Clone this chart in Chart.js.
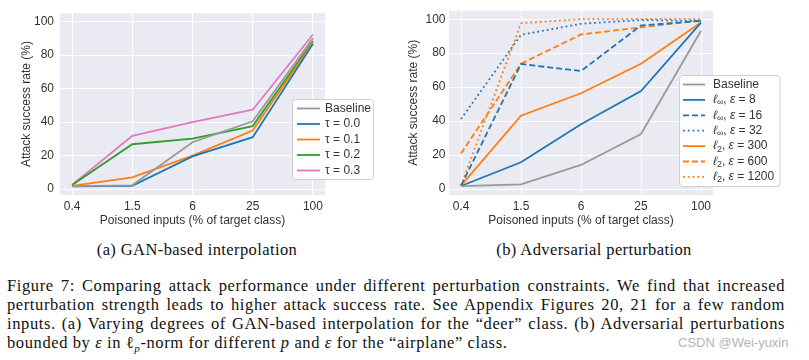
<!DOCTYPE html>
<html>
<head>
<meta charset="utf-8">
<script src="https://cdn.jsdelivr.net/npm/chart.js@4/dist/chart.umd.min.js"></script>
<style>
  html, body { margin: 0; padding: 0; background: #fff; }
  body { width: 809px; height: 360px; overflow: hidden; position: relative; }
  canvas { position: absolute; top: 0; }
  .cap { position: absolute; font-family: "Liberation Serif", "Times New Roman", serif; font-size: 16.5px; letter-spacing: 0.4px; color: #111; text-align: center; line-height: 20px; white-space: nowrap; }
  .fig { position: absolute; left: 7px; top: 276px; width: 778px; font-family: "Liberation Serif", "Times New Roman", serif; font-size: 16.5px; letter-spacing: 0.6px; color: #111; line-height: 19px; }
  .fig div { text-align: justify; text-align-last: justify; white-space: nowrap; }
  .fig div.last { text-align: left; text-align-last: left; }
  .wm { position: absolute; left: 678px; top: 335px; font-family: "Liberation Sans", Arial, sans-serif; font-size: 13px; color: #b4b4b4; line-height: 16px; white-space: nowrap; }
</style>
</head>
<body>
<canvas id="c1" width="400" height="230" style="left:0px;width:400px;height:230px"></canvas>
<canvas id="c2" width="409" height="230" style="left:400px;width:409px;height:230px"></canvas>

<div class="cap" style="left:47px;top:240px;width:300px">(a) GAN-based interpolation</div>
<div class="cap" style="left:444px;top:240px;width:300px">(b) Adversarial perturbation</div>

<div class="fig">
  <div>Figure 7: Comparing attack performance under different perturbation constraints. We find that increased</div>
  <div>perturbation strength leads to higher attack success rate. See Appendix Figures 20, 21 for a few random</div>
  <div>inputs. (a) Varying degrees of GAN-based interpolation for the “deer” class. (b) Adversarial perturbations</div>
  <div class="last">bounded by <i>ε</i> in ℓ<sub style="font-size:11px;font-style:italic;line-height:0">p</sub>-norm for different <i>p</i> and <i>ε</i> for the “airplane” class.</div>
</div>
<div class="wm">CSDN @Wei-yuxin</div>

<script>
// ---------- data ----------
const categories = ['0.4', '1.5', '6', '25', '100'];
const yTicks = [0, 20, 40, 60, 80, 100];

// (a) GAN-based interpolation
const ganBaseline = [1.8, 2.3, 28.0, 40.5, 90.0];
const ganTau00    = [1.7, 2.0, 19.5, 31.0, 86.7];
const ganTau01    = [2.0, 7.0, 20.0, 35.0, 87.5];
const ganTau02    = [2.5, 26.8, 30.2, 37.6, 88.4];
const ganTau03    = [2.5, 31.8, 40.0, 47.4, 92.3];

// (b) Adversarial perturbation
const advBaseline = [1.7, 2.7, 14.2, 32.4, 93.2];
const advLinf8    = [1.8, 15.8, 38.2, 57.7, 98.0];
const advLinf16   = [2.0, 73.6, 69.5, 96.3, 99.0];
const advLinf32   = [41.2, 90.8, 97.3, 99.5, 99.0];
const advL2_300   = [2.0, 43.2, 56.4, 73.8, 98.0];
const advL2_600   = [20.9, 73.8, 91.0, 95.2, 99.3];
const advL2_1200  = [2.0, 97.6, 100.0, 100.0, 100.0];

// ---------- styles ----------
const C = { blue: '#1f77b4', orange: '#ff7f0e', green: '#2ca02c', pink: '#e377c2', gray: '#999999' };
const DASHED = [6, 3];
const DOTTED = [1.8, 3];
const FONT = '"Liberation Sans", Arial, sans-serif';
const FS = 12;
const TXT = '#333333';

function toPts(arr) { return arr.map((v, i) => ({ x: i, y: v })); }
function ds(label, data, color, dash) {
  return { label: label, data: toPts(data), borderColor: color, backgroundColor: color,
           borderWidth: 1.8, borderDash: dash || [], pointRadius: 0, tension: 0, fill: false };
}

const bgPlugin = {
  id: 'bg',
  beforeDraw(chart) {
    const { ctx, chartArea: a } = chart;
    ctx.save();
    ctx.fillStyle = '#ffffff';
    ctx.fillRect(0, 0, chart.width, chart.height);
    ctx.fillStyle = '#eaeaf2';
    ctx.fillRect(a.left, a.top, a.right - a.left, a.bottom - a.top);
    ctx.restore();
  }
};

function drawPieces(ctx, pieces, x, y) {
  for (const p of pieces) {
    const size = p.sub ? 9 : FS;
    ctx.font = (p.it ? 'italic ' : '') + size + 'px ' + FONT;
    ctx.fillText(p.t, x, y + (p.sub ? 3 : 0));
    x += ctx.measureText(p.t).width;
  }
}

const boxLegend = {
  id: 'boxLegend',
  afterDraw(chart, args, o) {
    if (!o || !o.items) return;
    const ctx = chart.ctx;
    ctx.save();
    const r = 3;
    ctx.beginPath();
    ctx.moveTo(o.x + r, o.y);
    ctx.arcTo(o.x + o.w, o.y, o.x + o.w, o.y + o.h, r);
    ctx.arcTo(o.x + o.w, o.y + o.h, o.x, o.y + o.h, r);
    ctx.arcTo(o.x, o.y + o.h, o.x, o.y, r);
    ctx.arcTo(o.x, o.y, o.x + o.w, o.y, r);
    ctx.closePath();
    ctx.fillStyle = 'rgba(255,255,255,0.9)';
    ctx.fill();
    ctx.strokeStyle = '#d0d0d0';
    ctx.lineWidth = 1;
    ctx.stroke();
    o.items.forEach((it, i) => {
      const dset = chart.data.datasets[i];
      const yy = o.firstY + i * o.rowH;
      ctx.beginPath();
      ctx.setLineDash(dset.borderDash || []);
      ctx.strokeStyle = dset.borderColor;
      ctx.lineWidth = 1.8;
      ctx.moveTo(o.lx0, yy);
      ctx.lineTo(o.lx1, yy);
      ctx.stroke();
      ctx.setLineDash([]);
      ctx.fillStyle = TXT;
      ctx.textBaseline = 'middle';
      ctx.textAlign = 'left';
      drawPieces(ctx, it, o.tx, yy);
    });
    ctx.restore();
  }
};

function makeChart(id, datasets, yW, tickPad, titlePad, padRight, legend) {
  return new Chart(document.getElementById(id), {
    type: 'line',
    data: { datasets: datasets },
    plugins: [bgPlugin, boxLegend],
    options: {
      responsive: false,
      animation: false,
      devicePixelRatio: 1,
      layout: { padding: { top: 9, right: padRight, left: 0, bottom: 0 } },
      plugins: { legend: { display: false }, tooltip: { enabled: false }, boxLegend: legend },
      scales: {
        x: {
          type: 'linear', min: -0.2, max: 4.2,
          afterBuildTicks: s => { s.ticks = categories.map((_, i) => ({ value: i })); },
          afterFit: s => { s.height = 35; },
          ticks: { callback: v => categories[v], font: { family: FONT, size: FS }, color: TXT,
                   padding: 4, autoSkip: false, maxRotation: 0 },
          grid: { color: '#ffffff', lineWidth: 1, drawTicks: false },
          border: { display: false },
          title: { display: true, text: 'Poisoned inputs (% of target class)',
                   font: { family: FONT, size: FS }, color: TXT, padding: { top: 0, bottom: 2.5 } }
        },
        y: {
          type: 'linear', min: -3.5, max: 105,
          afterBuildTicks: s => { s.ticks = yTicks.map(v => ({ value: v })); },
          afterFit: s => { s.width = yW; },
          ticks: { font: { family: FONT, size: FS }, color: TXT, padding: tickPad },
          grid: { color: '#ffffff', lineWidth: 1, drawTicks: false },
          border: { display: false },
          title: { display: true, text: 'Attack success rate (%)',
                   font: { family: FONT, size: FS }, color: TXT, padding: { top: titlePad, bottom: 0 } }
        }
      }
    }
  });
}

// (a)
makeChart('c1', [
  ds('Baseline', ganBaseline, C.gray),
  ds('τ = 0.0', ganTau00, C.blue),
  ds('τ = 0.1', ganTau01, C.orange),
  ds('τ = 0.2', ganTau02, C.green),
  ds('τ = 0.3', ganTau03, C.pink)
], 60, 6, 19.5, 75, {
  x: 292.5, y: 99.5, w: 81, h: 80, firstY: 108.5, rowH: 15.5, lx0: 297, lx1: 320, tx: 325,
  items: [
    [{ t: 'Baseline' }],
    [{ t: 'τ = 0.0' }],
    [{ t: 'τ = 0.1' }],
    [{ t: 'τ = 0.2' }],
    [{ t: 'τ = 0.3' }]
  ]
});

// (b)
makeChart('c2', [
  ds('Baseline', advBaseline, C.gray),
  ds('linf8', advLinf8, C.blue),
  ds('linf16', advLinf16, C.blue, DASHED),
  ds('linf32', advLinf32, C.blue, DOTTED),
  ds('l2_300', advL2_300, C.orange),
  ds('l2_600', advL2_600, C.orange, DASHED),
  ds('l2_1200', advL2_1200, C.orange, DOTTED)
], 49, 3.5, 6, 96, {
  x: 279.5, y: 75.5, w: 100.5, h: 111, firstY: 84.5, rowH: 15.4, lx0: 283, lx1: 305, tx: 313,
  items: [
    [{ t: 'Baseline' }],
    [{ t: 'ℓ', it: true }, { t: '∞', sub: true }, { t: ', ' }, { t: 'ε', it: true }, { t: ' = 8' }],
    [{ t: 'ℓ', it: true }, { t: '∞', sub: true }, { t: ', ' }, { t: 'ε', it: true }, { t: ' = 16' }],
    [{ t: 'ℓ', it: true }, { t: '∞', sub: true }, { t: ', ' }, { t: 'ε', it: true }, { t: ' = 32' }],
    [{ t: 'ℓ', it: true }, { t: '2', sub: true }, { t: ', ' }, { t: 'ε', it: true }, { t: ' = 300' }],
    [{ t: 'ℓ', it: true }, { t: '2', sub: true }, { t: ', ' }, { t: 'ε', it: true }, { t: ' = 600' }],
    [{ t: 'ℓ', it: true }, { t: '2', sub: true }, { t: ', ' }, { t: 'ε', it: true }, { t: ' = 1200' }]
  ]
});
</script>
</body>
</html>
